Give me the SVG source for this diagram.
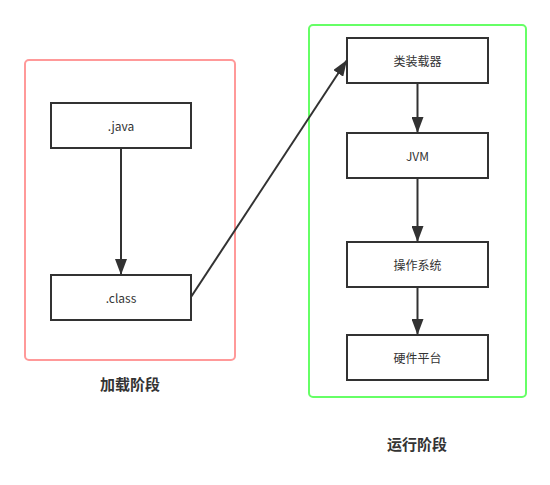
<svg xmlns="http://www.w3.org/2000/svg" width="550" height="485" viewBox="0 0 550 485">
<style>
.box{fill:#fff;stroke:#323232;stroke-width:2}
.t{font-family:"Noto Sans CJK SC","Liberation Sans",sans-serif;font-size:12px;fill:#333;text-anchor:middle;dominant-baseline:central}
.lbl{font-family:"Noto Sans CJK SC","Liberation Sans",sans-serif;font-size:15px;font-weight:bold;fill:#333;text-anchor:middle;dominant-baseline:central}
.c{fill:none;stroke:#323232;stroke-width:2}
</style>
<defs>
<marker id="ah" viewBox="0 0 16 12" refX="16" refY="6" markerWidth="16" markerHeight="12" markerUnits="userSpaceOnUse" orient="auto">
<path d="M0,0 L16,6 L0,12 Z" fill="#323232"/>
</marker>
</defs>
<rect width="550" height="485" fill="#fff"/>
<g id="load-stage">
<rect x="25" y="60" width="210" height="300" rx="4" fill="#fff" stroke="#ff9999" stroke-width="2"/>
<text class="lbl" x="130" y="383">加载阶段</text>
</g>
<g id="run-stage">
<rect x="309" y="25" width="217" height="372" rx="4" fill="#fff" stroke="#66ff66" stroke-width="2"/>
<text class="lbl" x="417" y="443">运行阶段</text>
</g>
<g id="java"><rect class="box" x="51" y="103" width="140" height="45"/><text class="t" x="121" y="125.5">.java</text></g>
<g id="class"><rect class="box" x="51" y="275" width="140" height="45"/><text class="t" x="121" y="297.5">.class</text></g>
<g id="loader"><rect class="box" x="347" y="38" width="141" height="45"/><text class="t" x="417.5" y="60.5">类装载器</text></g>
<g id="jvm"><rect class="box" x="347" y="133" width="141" height="45"/><text class="t" x="417.5" y="155.5">JVM</text></g>
<g id="os"><rect class="box" x="347" y="242" width="141" height="45"/><text class="t" x="417.5" y="264.5">操作系统</text></g>
<g id="hw"><rect class="box" x="347" y="335" width="141" height="45"/><text class="t" x="417.5" y="357.5">硬件平台</text></g>
<g id="connectors">
<line class="c" x1="121" y1="148" x2="121" y2="275" marker-end="url(#ah)"/>
<line class="c" x1="191" y1="297" x2="347" y2="60" marker-end="url(#ah)"/>
<line class="c" x1="417.5" y1="83" x2="417.5" y2="133" marker-end="url(#ah)"/>
<line class="c" x1="417.5" y1="178" x2="417.5" y2="242" marker-end="url(#ah)"/>
<line class="c" x1="417.5" y1="287" x2="417.5" y2="335" marker-end="url(#ah)"/>
</g>
</svg>
